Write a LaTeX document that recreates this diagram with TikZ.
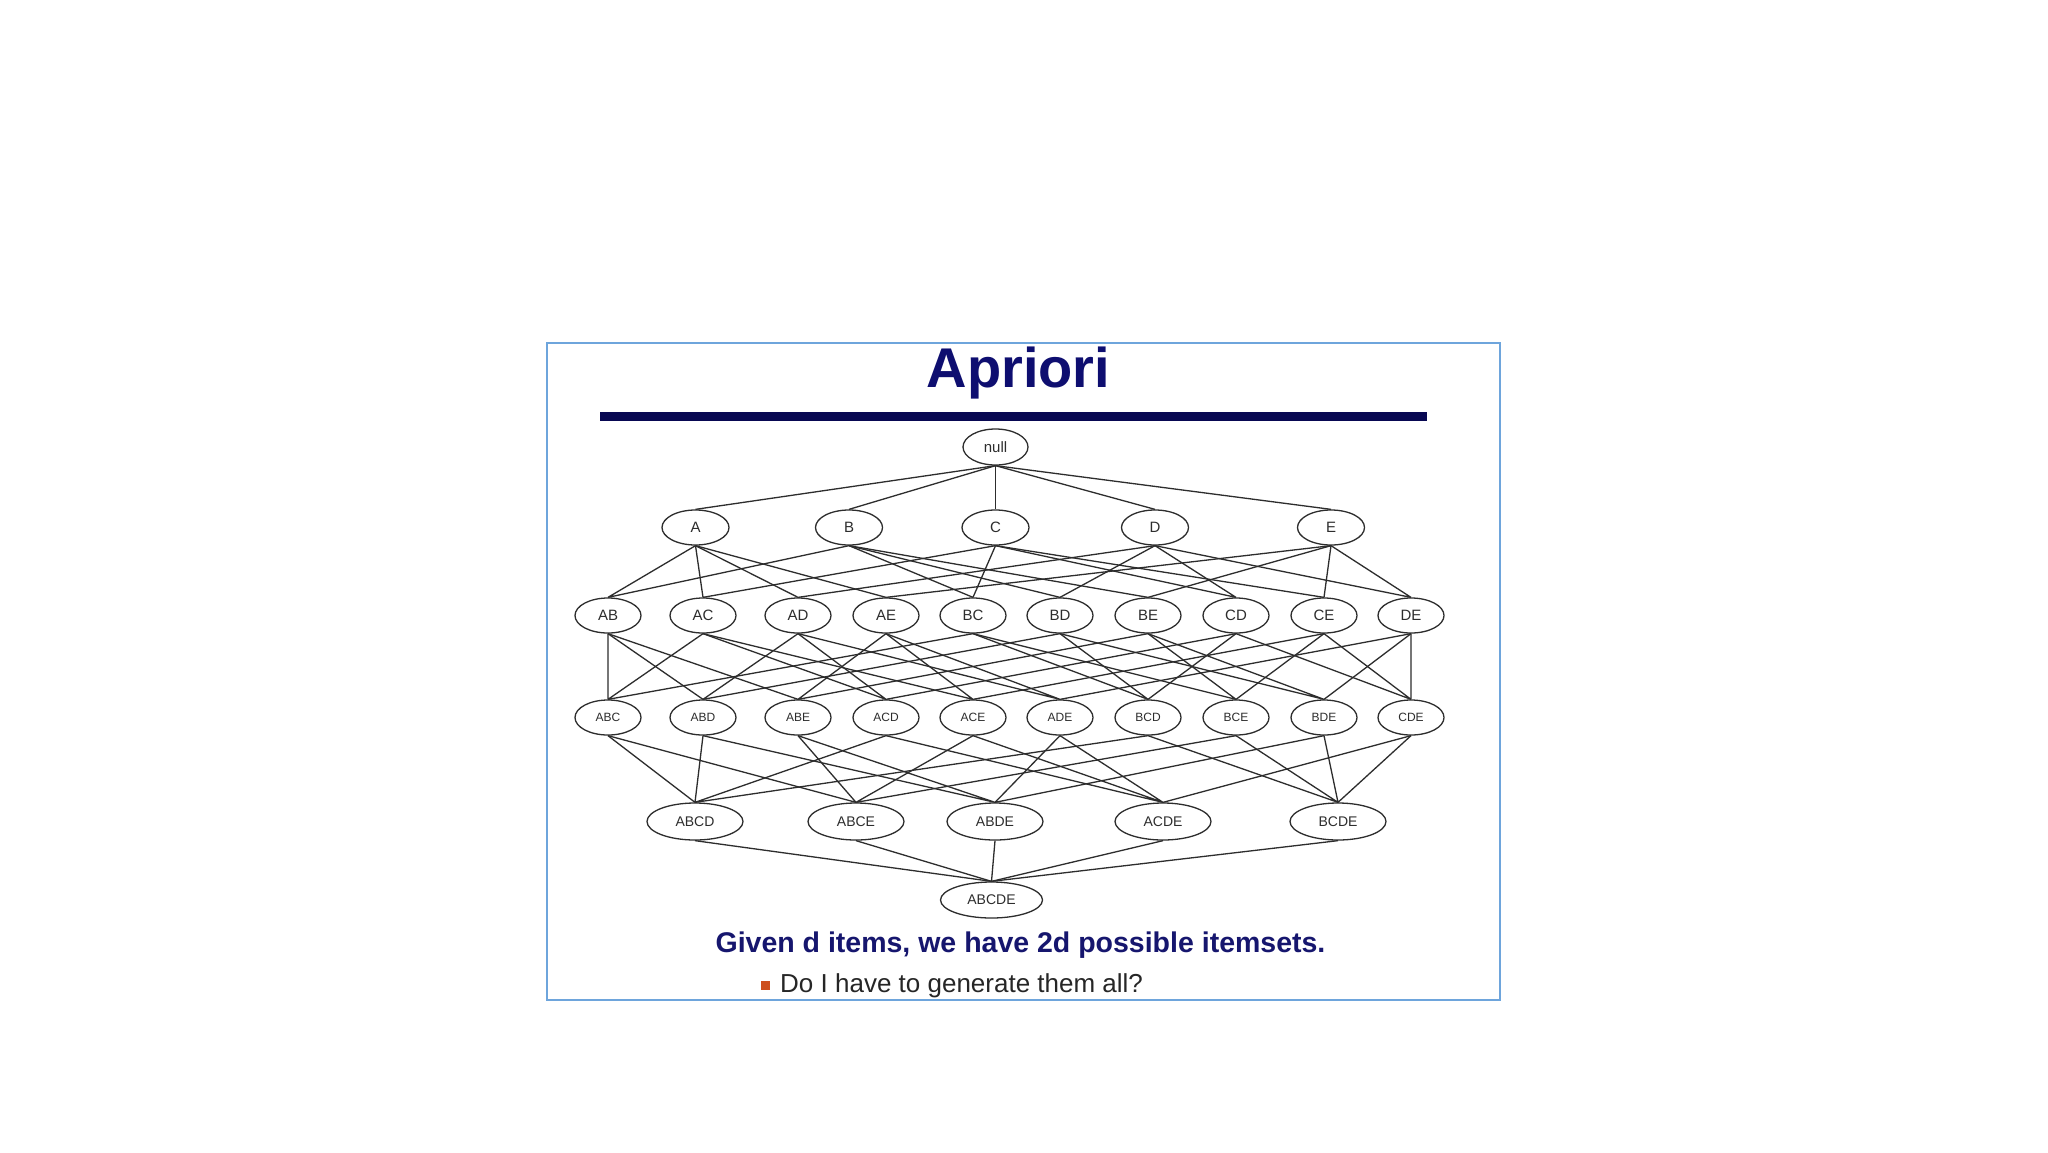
\documentclass[tikz,border=0pt]{standalone}
\usepackage{fontspec}
\setmainfont{Liberation Sans}
\usepackage{tikz}
\usetikzlibrary{shapes.geometric}
\definecolor{titleblue}{RGB}{14,14,112}
\definecolor{barblue}{RGB}{8,8,82}
\definecolor{textblue}{RGB}{22,22,110}
\definecolor{framecol}{RGB}{110,165,220}
\definecolor{bulletcol}{RGB}{205,80,30}
\definecolor{linecol}{RGB}{45,45,45}

\begin{document}
\begin{tikzpicture}[x=1pt, y=-1pt,
	itemset/.style={ellipse, draw=linecol, line width=1.3pt, inner sep=0pt,
		minimum width=66pt, minimum height=35pt, text=linecol,
		font=\fontsize{15}{15}\selectfont},
	triple/.style={itemset, font=\fontsize{12}{12}\selectfont},
	quad/.style={itemset, minimum width=96pt, minimum height=37pt,
		font=\fontsize{14}{14}\selectfont},
	edge/.style={draw=linecol, line width=1.3pt}]
	\useasboundingbox (0,0) rectangle (2048,1152);
	\fill[white] (0,0) rectangle (2048,1152);
	\draw[framecol, line width=2pt] (547,343) rectangle (1500,1000);
	% heading
	\node[text=titleblue, font=\fontsize{56}{56}\selectfont\bfseries, anchor=base] (title) at (1018.5,387) {Apriori};
	\fill[barblue] (600,412) rectangle (1427,421);
	% lattice
	\node[itemset, minimum width=65pt, minimum height=36pt] (null) at (995.5,447) {null};
	\foreach \n/\x in {A/695.5, B/849, C/995.5, D/1155, E/1331}
		\node[itemset, minimum width=67pt] (\n) at (\x,527.5) {\n};
	\foreach \n/\x in {AB/608, AC/703, AD/798, AE/886, BC/973, BD/1060, BE/1148, CD/1236, CE/1324, DE/1411}
		\node[itemset] (\n) at (\x,615.5) {\n};
	\foreach \n/\x in {ABC/608, ABD/703, ABE/798, ACD/886, ACE/973, ADE/1060, BCD/1148, BCE/1236, BDE/1324, CDE/1411}
		\node[triple] (\n) at (\x,717.5) {\n};
	\foreach \n/\x in {ABCD/695, ABCE/856, ABDE/995, ACDE/1163, BCDE/1338}
		\node[quad] (\n) at (\x,821.5) {\n};
	\node[quad, minimum width=102pt, minimum height=36pt] (ABCDE) at (991.5,900) {ABCDE};
	% connectors
	\foreach \x in {A,B,C,D,E}
		\draw[edge] (null.south) -- (\x.north);
	\foreach \x/\y in {A/B,A/C,A/D,A/E,B/C,B/D,B/E,C/D,C/E,D/E}
		\draw[edge] (\x.south) -- (\x\y.north) (\y.south) -- (\x\y.north);
	\foreach \x/\y/\z in {A/B/C,A/B/D,A/B/E,A/C/D,A/C/E,A/D/E,B/C/D,B/C/E,B/D/E,C/D/E}
		\draw[edge] (\x\y.south) -- (\x\y\z.north) (\x\z.south) -- (\x\y\z.north)
			(\y\z.south) -- (\x\y\z.north);
	\foreach \a/\b/\c/\d in {A/B/C/D,A/B/C/E,A/B/D/E,A/C/D/E,B/C/D/E}
		\draw[edge] (\a\b\c.south) -- (\a\b\c\d.north) (\a\b\d.south) -- (\a\b\c\d.north)
			(\a\c\d.south) -- (\a\b\c\d.north) (\b\c\d.south) -- (\a\b\c\d.north);
	\foreach \q in {ABCD,ABCE,ABDE,ACDE,BCDE}
		\draw[edge] (\q.south) -- (ABCDE.north);
	% text below
	\node[text=textblue, font=\fontsize{28.5}{28.5}\selectfont\bfseries, anchor=base, inner sep=0pt] (given) at (1020.5,952) {Given d items, we have 2d possible itemsets.};
	\fill[bulletcol] (761,981) rectangle (770,990);
	\node[text=black!85, font=\fontsize{26}{26}\selectfont, anchor=base west, inner sep=0pt] (question) at (780,992) {Do I have to generate them all?};
\end{tikzpicture}
\end{document}
